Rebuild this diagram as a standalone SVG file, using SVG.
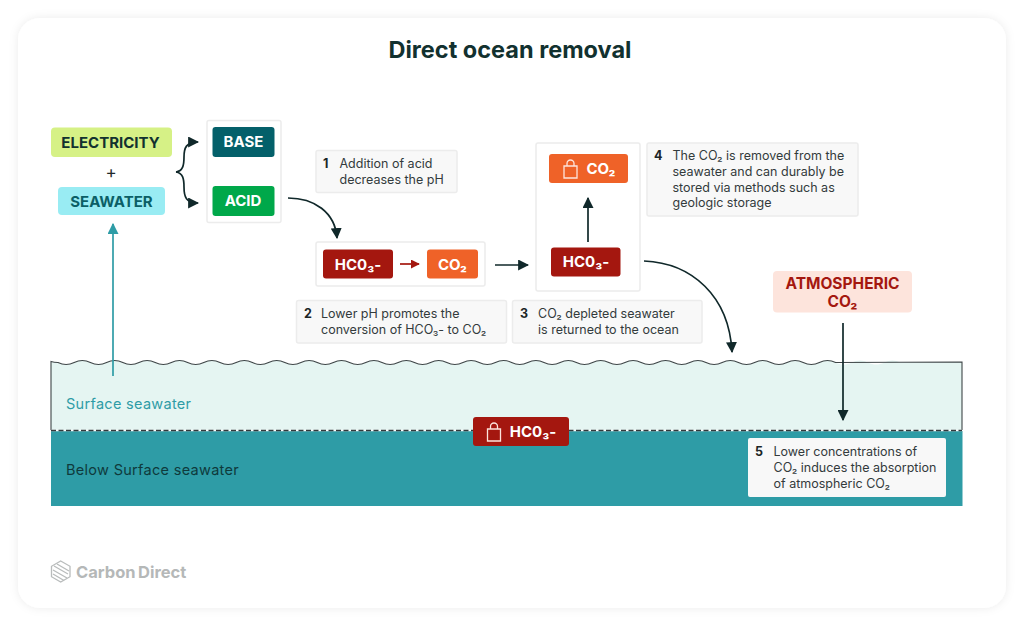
<svg xmlns="http://www.w3.org/2000/svg" width="1024" height="627" viewBox="0 0 1024 627">
<style>
text{font-family:Inter,"Noto Sans","Liberation Sans",sans-serif;fill:#1f2a2b}
.badge{font-weight:700;font-size:15px;text-anchor:middle;fill:#fff}
.note{fill:#f8f8f8;stroke:#ececec;stroke-width:1.5}
.panel{fill:#fff;stroke:#ececec;stroke-width:1.5}
.t{font-size:12.5px;fill:#333b3c}
.n{font-size:12.5px;font-weight:700;fill:#1b2526}
.c{fill:none;stroke:#10282a;stroke-width:1.7}
.lock{fill:none;stroke:#fde4dc;stroke-width:1.3}
</style>
<defs>
<marker id="ah" viewBox="0 0 10 10" refX="9" refY="5" markerWidth="11" markerHeight="11" markerUnits="userSpaceOnUse" orient="auto"><path d="M0 0L10 5L0 10Z" fill="#10282a"/></marker>
<marker id="ar" viewBox="0 0 10 10" refX="9" refY="5" markerWidth="9" markerHeight="9" markerUnits="userSpaceOnUse" orient="auto"><path d="M0 0L10 5L0 10Z" fill="#a4170f"/></marker>
<marker id="at" viewBox="0 0 10 10" refX="9" refY="5" markerWidth="11" markerHeight="11" markerUnits="userSpaceOnUse" orient="auto"><path d="M0 0L10 5L0 10Z" fill="#2e9ca6"/></marker>
<filter id="sh" x="-5%" y="-5%" width="110%" height="110%"><feDropShadow dx="0" dy="0" stdDeviation="5" flood-color="#000" flood-opacity=".08"/></filter>
<path id="lk" d="M-6.500 -3H6.500V9H-6.500ZM-3.500 -3V-5.500A3.500 3.500 0 0 1 3.500 -5.500V-3"/>
</defs>
<rect width="1024" height="627" fill="#fff"/>
<rect x="18" y="18" width="988" height="590" rx="22" fill="#fff" filter="url(#sh)"/>
<text x="510" y="58" text-anchor="middle" font-size="23.500" font-weight="700" style="fill:#12312f">Direct ocean removal</text>

<g id="water">
<path d="M51 361.500Q54 362.500 58 362.500c5.400 2.700 10.800 2.700 16.200 0s10.800 -2.700 16.200 0s10.800 2.700 16.200 0s10.800 -2.700 16.200 0s10.800 2.700 16.200 0s10.800 -2.700 16.200 0s10.800 2.700 16.200 0s10.800 -2.700 16.200 0s10.800 2.700 16.200 0s10.800 -2.700 16.200 0s10.800 2.700 16.200 0s10.800 -2.700 16.200 0s10.800 2.700 16.200 0s10.800 -2.700 16.200 0s10.800 2.700 16.200 0s10.800 -2.700 16.200 0s10.800 2.700 16.200 0s10.800 -2.700 16.200 0s10.800 2.700 16.200 0s10.800 -2.700 16.200 0s10.800 2.700 16.200 0s10.800 -2.700 16.200 0s10.800 2.700 16.200 0s10.800 -2.700 16.200 0s10.800 2.700 16.200 0s10.800 -2.700 16.200 0s10.800 2.700 16.200 0s10.800 -2.700 16.200 0s10.800 2.700 16.200 0s10.800 -2.700 16.200 0s10.800 2.700 16.200 0s10.800 -2.700 16.200 0s10.800 2.700 16.200 0s10.800 -2.700 16.200 0s10.800 2.700 16.200 0s10.800 -2.700 16.200 0s10.800 2.700 16.200 0s10.800 -2.700 16.200 0s10.800 2.700 16.200 0s10.800 -2.700 16.200 0s10.800 2.700 16.200 0s10.800 -2.700 16.200 0s10.800 2.700 16.200 0s10.800 -2.700 16.200 0s10.800 2.700 16.200 0s10.800 -2.700 16.200 0s10.800 2.700 16.200 0s10.800 -2.700 16.200 0s10.800 2.700 16.200 0s10.800 -2.700 16.200 0s10.800 2.700 16.200 0s10.800 -2.700 16.200 0L962 362V430H51Z" fill="#e5f5f2"/>
<path d="M51 430V361.500Q54 362.500 58 362.500c5.400 2.700 10.800 2.700 16.200 0s10.800 -2.700 16.200 0s10.800 2.700 16.200 0s10.800 -2.700 16.200 0s10.800 2.700 16.200 0s10.800 -2.700 16.200 0s10.800 2.700 16.200 0s10.800 -2.700 16.200 0s10.800 2.700 16.200 0s10.800 -2.700 16.200 0s10.800 2.700 16.200 0s10.800 -2.700 16.200 0s10.800 2.700 16.200 0s10.800 -2.700 16.200 0s10.800 2.700 16.200 0s10.800 -2.700 16.200 0s10.800 2.700 16.200 0s10.800 -2.700 16.200 0s10.800 2.700 16.200 0s10.800 -2.700 16.200 0s10.800 2.700 16.200 0s10.800 -2.700 16.200 0s10.800 2.700 16.200 0s10.800 -2.700 16.200 0s10.800 2.700 16.200 0s10.800 -2.700 16.200 0s10.800 2.700 16.200 0s10.800 -2.700 16.200 0s10.800 2.700 16.200 0s10.800 -2.700 16.200 0s10.800 2.700 16.200 0s10.800 -2.700 16.200 0s10.800 2.700 16.200 0s10.800 -2.700 16.200 0s10.800 2.700 16.200 0s10.800 -2.700 16.200 0s10.800 2.700 16.200 0s10.800 -2.700 16.200 0s10.800 2.700 16.200 0s10.800 -2.700 16.200 0s10.800 2.700 16.200 0s10.800 -2.700 16.200 0s10.800 2.700 16.200 0s10.800 -2.700 16.200 0s10.800 2.700 16.200 0s10.800 -2.700 16.200 0s10.800 2.700 16.200 0s10.800 -2.700 16.200 0L962 362V430" fill="none" stroke="#3f4648" stroke-width="1.100"/>
<rect x="51" y="431" width="911.500" height="75" fill="#2e9ca6"/>
<path d="M51 430.500H962" stroke="#fff" stroke-width="1.500"/>
<path d="M51 430.500H962" stroke="#333a3c" stroke-width="1.500" stroke-dasharray="5 2.500"/>
<text x="66" y="409" font-size="14.500" style="fill:#2e9ca6;letter-spacing:.3px">Surface seawater</text>
<text x="66" y="475" font-size="14.500" style="fill:#0f3a3c;letter-spacing:.3px">Below Surface seawater</text>
</g>

<g id="electricity"><rect x="51" y="127.500" width="121" height="29.500" rx="4" fill="#d6f186"/><text x="110.500" y="147.500" class="badge" style="fill:#12312f">ELECTRICITY</text></g>
<g id="plus"><text x="111" y="178" text-anchor="middle" font-size="17">+</text></g>
<g id="seawater"><rect x="58" y="187" width="107" height="28" rx="4" fill="#99ecf3"/><text x="111.500" y="206.500" class="badge" style="fill:#0b5f66">SEAWATER</text></g>
<g id="base-acid-panel"><rect class="panel" x="207" y="120.500" width="74" height="102" rx="2"/></g>
<g id="base"><rect x="212.500" y="127" width="62" height="30" rx="3" fill="#04606a"/><text x="243.500" y="147" class="badge">BASE</text></g>
<g id="acid"><rect x="212.500" y="186" width="62" height="30" rx="3" fill="#00a84a"/><text x="243" y="206" class="badge">ACID</text></g>

<g id="note1"><rect class="note" x="316" y="150.500" width="141" height="42" rx="2"/><text class="n" x="323" y="168">1</text><text class="t" x="339.500" y="168">Addition of acid</text><text class="t" x="339.500" y="184">decreases the pH</text></g>

<g id="conversion-panel"><rect class="panel" x="316" y="242" width="169" height="44" rx="2"/></g>
<g id="hco3-a"><rect x="323" y="249.500" width="70" height="29" rx="3" fill="#a4170f"/><text x="358" y="269.500" class="badge">HC0₃-</text></g>
<g id="co2-a"><rect x="427" y="249.500" width="51" height="29" rx="3" fill="#ef6228"/><text x="452.500" y="269.500" class="badge">CO₂</text></g>

<g id="storage-panel"><rect class="panel" x="536" y="143" width="104" height="148" rx="2"/></g>
<g id="co2-b"><rect x="549" y="154" width="79" height="29" rx="3" fill="#ef6228"/><use href="#lk" x="570.500" y="169" class="lock"/><text x="601" y="174" class="badge">CO₂</text></g>
<g id="hco3-b"><rect x="551" y="247.500" width="69.500" height="29" rx="3" fill="#a4170f"/><text x="586" y="267" class="badge">HC0₃-</text></g>

<g id="note2"><rect class="note" x="296.500" y="300.500" width="210" height="42.500" rx="2"/><text class="n" x="304" y="318">2</text><text class="t" x="321" y="318">Lower pH promotes the</text><text class="t" x="321" y="334">conversion of HCO₃- to CO₂</text></g>
<g id="note3"><rect class="note" x="512.500" y="300.500" width="189.500" height="42.500" rx="2"/><text class="n" x="520" y="318">3</text><text class="t" x="538" y="318">CO₂ depleted seawater</text><text class="t" x="538" y="334">is returned to the ocean</text></g>
<g id="note4"><rect class="note" x="647" y="143" width="211" height="73" rx="2"/><text class="n" x="654" y="160">4</text><text class="t" x="672.500" y="160">The CO₂ is removed from the</text><text class="t" x="672.500" y="176">seawater and can durably be</text><text class="t" x="672.500" y="191.500">stored via methods such as</text><text class="t" x="672.500" y="207">geologic storage</text></g>

<g id="atmospheric"><rect x="773" y="271" width="139" height="41.500" rx="4" fill="#fde4dc"/><text x="842.500" y="289" class="badge" style="fill:#a4170f;font-size:15.500px">ATMOSPHERIC</text><text x="842.500" y="307" class="badge" style="fill:#a4170f;font-size:15.500px">CO₂</text></g>
<g id="hco3-c"><rect x="473" y="417" width="96" height="29" rx="3" fill="#a4170f"/><use href="#lk" x="494" y="432" class="lock"/><text x="533" y="436.500" class="badge">HC0₃-</text></g>
<g id="note5"><rect x="748" y="438" width="198" height="59" rx="2" fill="#f8f8f8"/><text class="n" x="755" y="456">5</text><text class="t" x="773.500" y="456">Lower concentrations of</text><text class="t" x="773.500" y="472">CO₂ induces the absorption</text><text class="t" x="773.500" y="488">of atmospheric CO₂</text></g>

<g id="logo">
<path d="M60.700 561L70 566.300V576.700L60.700 582L51.500 576.700V566.300Z" fill="none" stroke="#b9bcbc" stroke-width="1.300"/>
<path d="M54 566L68 574M53 570L67 578M53 574L64 580.500M57 564L69 571" fill="none" stroke="#b9bcbc" stroke-width="1.300"/>
<text x="76" y="578" font-size="16.500" font-weight="700" style="fill:#b5b8b8">Carbon</text><text x="138" y="578" font-size="16.500" font-weight="700" style="fill:#b5b8b8">Direct</text>
</g>

<g id="connectors">
<path class="c" d="M176 172C183 171 184 165 184 157C184 148 186 142 198 142" marker-end="url(#ah)"/>
<path class="c" d="M176 172C183 173 184 179 184 187C184 197 186 203 198 203" marker-end="url(#ah)"/>
<path class="c" d="M288 198C314 198 335 212 337 238" marker-end="url(#ah)"/>
<path d="M113 376V224" fill="none" stroke="#2e9ca6" stroke-width="1.700" marker-end="url(#at)"/>
<path d="M400 264H419" fill="none" stroke="#a4170f" stroke-width="1.700" marker-end="url(#ar)"/>
<path class="c" d="M495 265H528" marker-end="url(#ah)"/>
<path class="c" d="M588 242V198" marker-end="url(#ah)"/>
<path class="c" d="M644 261C692 263 729 296 732 352" marker-end="url(#ah)"/>
<path class="c" d="M843 323V420" marker-end="url(#ah)"/>
</g>
</svg>
